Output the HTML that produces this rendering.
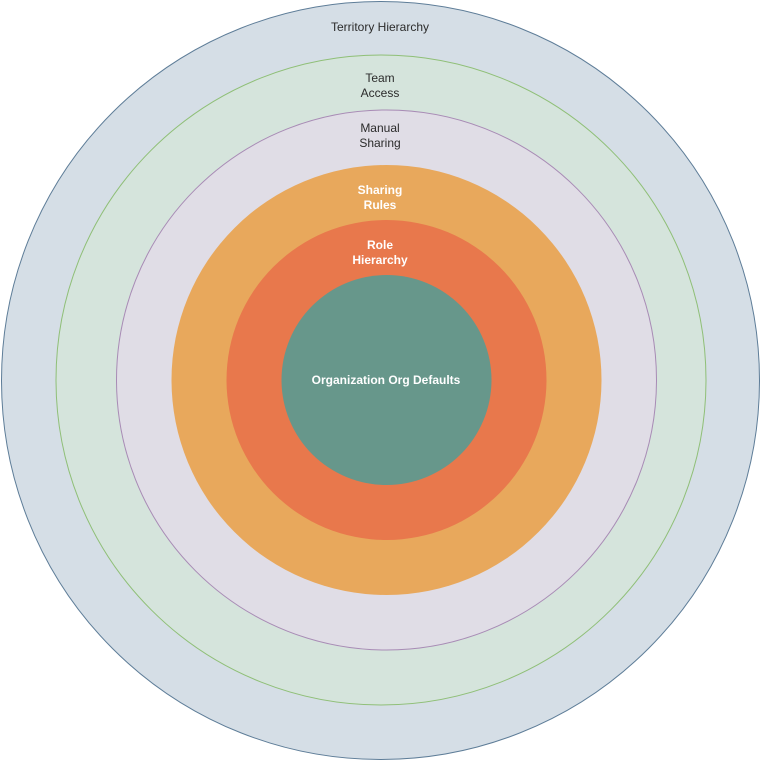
<!DOCTYPE html>
<html><head><style>
html,body{margin:0;padding:0;background:#fff;width:761px;height:761px;overflow:hidden}
svg text{font-family:"Liberation Sans",Arial,sans-serif;font-size:12px;text-anchor:middle}
</style></head><body>
<svg width="761" height="761" viewBox="0 0 761 761">
<circle cx="380.5" cy="380.5" r="379" fill="#d5dee6" stroke="#5e7d98" stroke-width="1"/>
<circle cx="381" cy="380" r="325" fill="#d5e4dc" stroke="#8fbf77" stroke-width="1"/>
<circle cx="386.5" cy="380" r="270" fill="#e0dde6" stroke="#a88bb5" stroke-width="1"/>
<circle cx="386.5" cy="380" r="215" fill="#e8a85c"/>
<circle cx="386.5" cy="380" r="160" fill="#e8784c"/>
<circle cx="386.5" cy="380" r="105" fill="#67978b"/>
<g fill="#2b2b2b">
<text x="380" y="31">Territory Hierarchy</text>
<text x="380" y="82">Team</text><text x="380" y="97">Access</text>
<text x="380" y="132">Manual</text><text x="380" y="147">Sharing</text>
</g>
<g fill="#fff" font-weight="bold">
<text x="380" y="194" style="font-weight:bold">Sharing</text><text x="380" y="209" style="font-weight:bold">Rules</text>
<text x="380" y="249" style="font-weight:bold">Role</text><text x="380" y="264" style="font-weight:bold">Hierarchy</text>
<text x="386" y="384" style="font-weight:bold">Organization Org Defaults</text>
</g>
</svg>
</body></html>
